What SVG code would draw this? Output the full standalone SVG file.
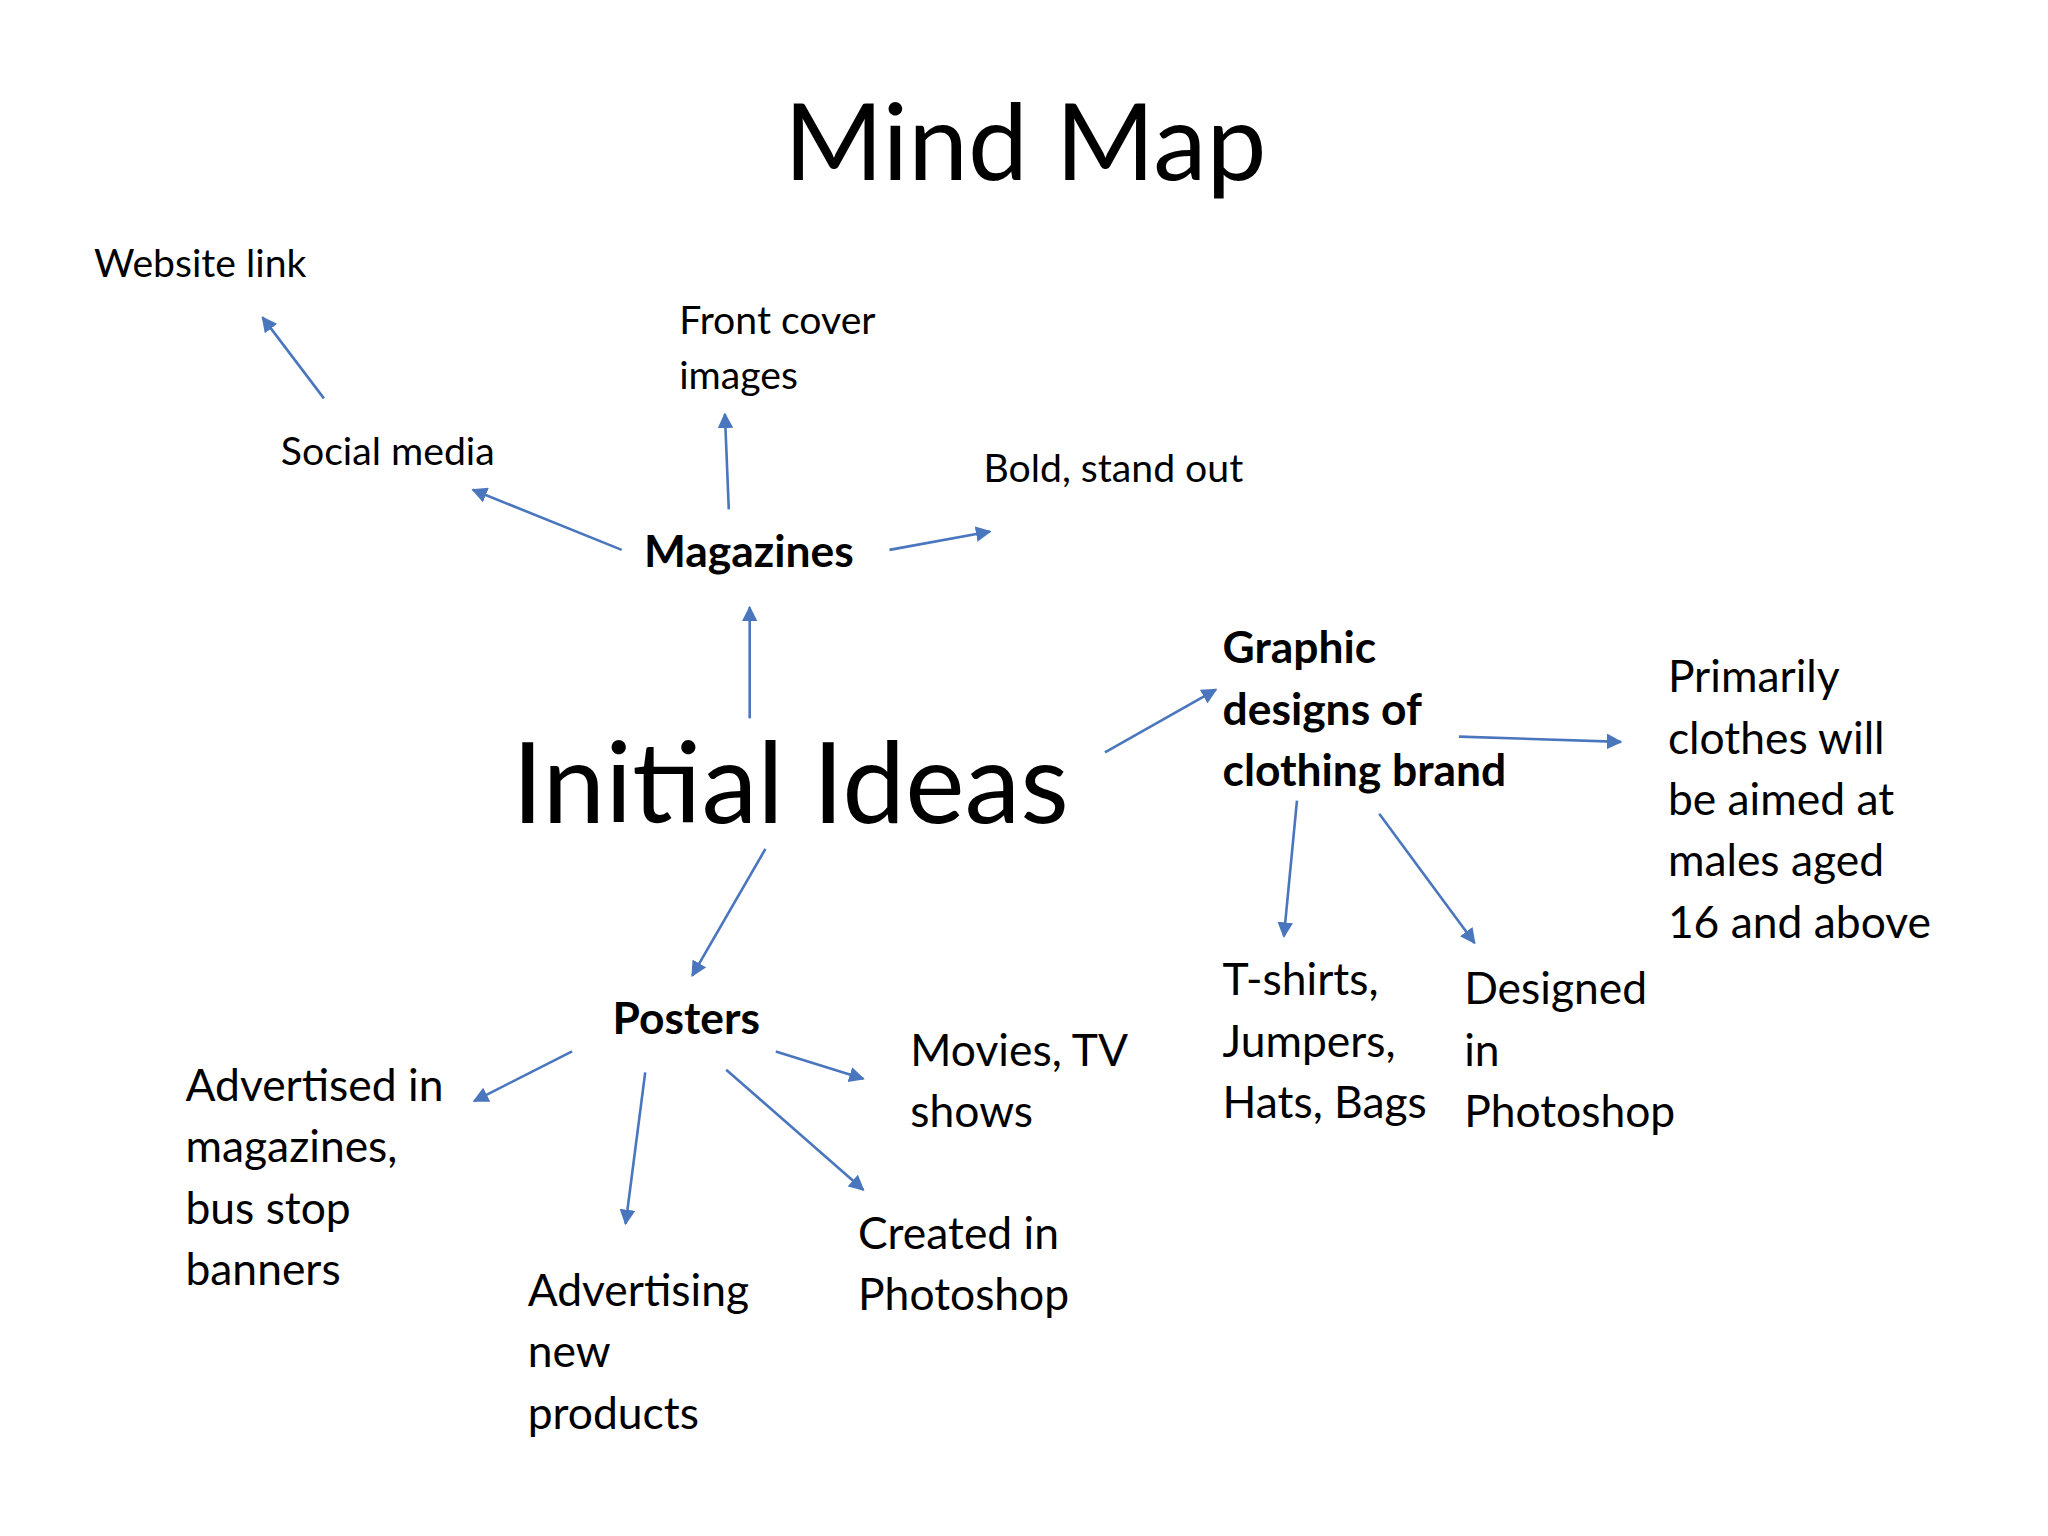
<svg xmlns="http://www.w3.org/2000/svg" width="2048" height="1536" viewBox="0 0 2048 1536">
<style>
text{font-family:Lato,"Open Sans","Liberation Sans",sans-serif;fill:#000}
.s{font-size:30px}
.m{font-size:34px}
.b{font-size:34px;font-weight:bold}
.c line{stroke:#4a76bd;stroke-width:2;marker-end:url(#a)}
</style>
<defs><marker id="a" viewBox="0 0 10 10" refX="9" refY="5" markerWidth="6" markerHeight="6" orient="auto" markerUnits="strokeWidth"><path d="M0,0L10,5L0,10z" fill="#4a76bd"/></marker></defs>
<rect width="2048" height="1536" fill="#fff"/>
<g transform="scale(1.3061)">
<text x="785" y="138" font-size="82" text-anchor="middle">Mind Map</text>
<g id="website"><text class="s" x="72" y="212">Website link</text></g>
<g id="front"><text class="s" x="520" y="256">Front cover</text><text class="s" x="520" y="298">images</text></g>
<g id="social"><text class="s" x="215" y="356">Social media</text></g>
<g id="bold"><text class="s" x="753" y="369">Bold, stand out</text></g>
<g id="magazines"><text class="b" x="493" y="434">Magazines</text></g>
<g id="initial"><text x="392" y="630" font-size="86">Initial Ideas</text></g>
<g id="graphic"><text class="b" x="936" y="508">Graphic</text><text class="b" x="936" y="555">designs of</text><text class="b" x="936" y="602">clothing brand</text></g>
<g id="primarily"><text class="m" x="1277" y="530">Primarily</text><text class="m" x="1277" y="577">clothes will</text><text class="m" x="1277" y="624">be aimed at</text><text class="m" x="1277" y="671">males aged</text><text class="m" x="1277" y="718">16 and above</text></g>
<g id="tshirts"><text class="m" x="936" y="762">T-shirts,</text><text class="m" x="936" y="809">Jumpers,</text><text class="m" x="936" y="856">Hats, Bags</text></g>
<g id="designed"><text class="m" x="1121" y="769">Designed</text><text class="m" x="1121" y="816">in</text><text class="m" x="1121" y="863">Photoshop</text></g>
<g id="posters"><text class="b" x="469" y="792">Posters</text></g>
<g id="advertised"><text class="m" x="142" y="843">Advertised in</text><text class="m" x="142" y="890">magazines,</text><text class="m" x="142" y="937">bus stop</text><text class="m" x="142" y="984">banners</text></g>
<g id="movies"><text class="m" x="697" y="816">Movies, TV</text><text class="m" x="697" y="863">shows</text></g>
<g id="created"><text class="m" x="657" y="956">Created in</text><text class="m" x="657" y="1003">Photoshop</text></g>
<g id="advertising"><text class="m" x="404" y="1000">Advertising</text><text class="m" x="404" y="1047">new</text><text class="m" x="404" y="1094">products</text></g>
<g class="c" id="connectors">
<line x1="248" y1="305" x2="201" y2="243"/>
<line x1="476" y1="421" x2="362" y2="375"/>
<line x1="558" y1="390" x2="555" y2="317"/>
<line x1="681" y1="421" x2="758" y2="407"/>
<line x1="574" y1="550" x2="574" y2="465"/>
<line x1="846" y1="576" x2="931" y2="528"/>
<line x1="1117" y1="564" x2="1241" y2="568"/>
<line x1="993" y1="613" x2="983" y2="717"/>
<line x1="1056" y1="623" x2="1129" y2="722"/>
<line x1="586" y1="650" x2="530" y2="747"/>
<line x1="438" y1="805" x2="363" y2="843"/>
<line x1="494" y1="821" x2="479" y2="937"/>
<line x1="556" y1="819" x2="661" y2="911"/>
<line x1="594" y1="805" x2="661" y2="826"/>
</g>
</g>
</svg>
